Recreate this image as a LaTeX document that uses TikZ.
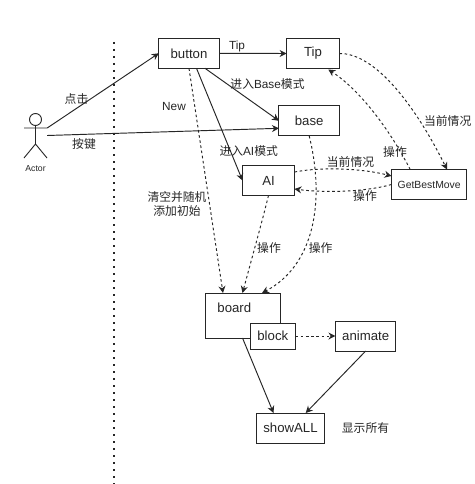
\documentclass[tikz,border=0pt]{standalone}
\usepackage{fontspec}
\setmainfont{Liberation Sans}
\newfontfamily\cjk{Noto Sans CJK SC}
\usetikzlibrary{arrows.meta}
\definecolor{ink}{HTML}{262626}
\tikzset{
  x=1pt,y=-1pt,
  boxnode/.style={draw=ink,line width=1pt,fill=white,inner sep=0pt,outer sep=0pt,text=ink,font=\fontsize{13.2}{15}\selectfont},
  lab/.style={inner sep=0pt,text=ink,font=\fontsize{11.8}{14}\selectfont,align=center},
  conn/.style={draw=ink,line width=0.95pt,-{Stealth[length=7pt,width=7pt]}},
  dconn/.style={conn,dash pattern=on 2.6pt off 2.6pt},
}
\begin{document}
\begin{tikzpicture}
\useasboundingbox (0,0) rectangle (474,484);
\fill[white] (0,0) rectangle (474,484);
% swimlane divider
\coordinate (dtop) at (114,42);
\coordinate (dbot) at (114,484);
\draw[draw=ink,line width=1.6pt,dash pattern=on 1.6pt off 5.4pt] (dtop) -- (dbot);
% actor
\node[inner sep=0pt,minimum width=23pt,minimum height=45pt] (actor) at (35.5,135.5) {};
\draw[draw=ink,line width=0.9pt] (35.5,119.5) circle (6pt) (35.5,125.5) -- (35.5,144) (24,128) -- (47,128) (24,158) -- (35.5,144) -- (47,158);
\node[lab,font=\fontsize{8.7}{10}\selectfont] (actorlab) at (35.5,168.3) {Actor};
% boxes
\node[boxnode,minimum width=60.5pt,minimum height=30pt] (button) at (189,53.3) {button};
\node[boxnode,minimum width=52.8pt,minimum height=30pt] (tip) at (313,53.5) {Tip};
\node[boxnode,minimum width=60.5pt,minimum height=30.3pt] (base) at (309.2,120.8) {base};
\node[boxnode,minimum width=52pt,minimum height=30pt] (ai) at (268.5,180.5) {AI};
\node[boxnode,minimum width=75.5pt,minimum height=30pt,font=\fontsize{10.4}{12}\selectfont] (gbm) at (429.2,184.5) {GetBestMove};
\node[boxnode,minimum width=75pt,minimum height=45pt] (board) at (242.5,315.5) {};
\node[lab,font=\fontsize{13.2}{15}\selectfont] (boardlab) at (234.3,307.5) {board};
\node[boxnode,minimum width=45.5pt,minimum height=26pt] (block) at (272.8,336) {block};
\node[boxnode,minimum width=60.5pt,minimum height=30pt] (animate) at (365.7,336) {animate};
\node[boxnode,minimum width=68pt,minimum height=30pt] (showall) at (290.5,428) {showALL};
% connectors
\draw[conn] ([yshift=7.5pt]actor.east) -- (button.west);
\draw[conn] (actor.east) -- ([yshift=-7.5pt]base.west);
\draw[conn] (button.east) -- (tip.west);
\draw[conn] ([xshift=16pt]button.south) -- (base.west);
\draw[conn] ([xshift=7.5pt]button.south) -- (ai.west);
\draw[dconn] (button.south) -- ([xshift=-19.5pt]board.north);
\draw[dconn] (ai.south) .. controls (262,222) and (250,265) .. (board.north);
\draw[dconn] (base.south) .. controls (325,200) and (315,265) .. ([xshift=19.5pt]board.north);
\draw[dconn] (tip.east) .. controls (375,53) and (415,105) .. ([xshift=17.8pt]gbm.north);
\draw[dconn] ([xshift=-19pt]gbm.north) .. controls (390,130) and (360,90) .. ([xshift=15.3pt,yshift=-1pt]tip.south);
\draw[dconn] ([yshift=8.5pt]ai.east) .. controls (320,167) and (360,168) .. ([yshift=8.5pt]gbm.west);
\draw[dconn] (gbm.west) .. controls (365,192) and (325,193) .. ([yshift=-8.5pt]ai.east);
\draw[dconn] (block.east) -- (animate.west);
\draw[conn] (board.south) -- ([xshift=-17pt]showall.north);
\draw[conn] (animate.south) -- ([xshift=15.2pt]showall.north);
% labels
\node[lab] (l1) at (76.5,98.6) {\cjk 点击};
\node[lab] (l2) at (84,143.7) {\cjk 按键};
\node[lab] (l3) at (174,106) {New};
\node[lab] (l4) at (237,46) {Tip};
\node[lab] (l5) at (267.5,84) {{\cjk 进入}Base{\cjk 模式}};
\node[lab] (l6) at (248.7,151) {{\cjk 进入}AI{\cjk 模式}};
\node[lab,font=\fontsize{11.8}{14}\selectfont\cjk] (l7) at (177,204) {清空并随机\\添加初始};
\node[lab] (l8) at (350.5,162) {\cjk 当前情况};
\node[lab] (l9) at (447.7,120.7) {\cjk 当前情况};
\node[lab] (l10) at (395,151.7) {\cjk 操作};
\node[lab] (l11) at (365,196) {\cjk 操作};
\node[lab] (l12) at (269,248) {\cjk 操作};
\node[lab] (l13) at (320.7,248) {\cjk 操作};
\node[lab] (l14) at (365.5,428) {\cjk 显示所有};
\end{tikzpicture}
\end{document}
